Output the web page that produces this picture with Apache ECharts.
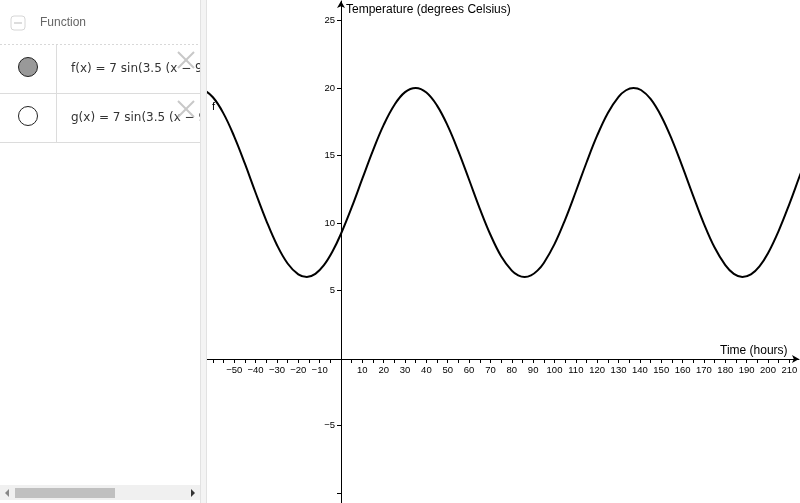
<!DOCTYPE html>
<html>
<head>
<meta charset="utf-8">
<script src="https://cdn.jsdelivr.net/npm/echarts@6/dist/echarts.min.js"></script>
<style>
html,body{margin:0;padding:0;background:#fff;}
#c{width:800px;height:503px;}
</style>
</head>
<body>
<div id="c"></div>
<script>
const timeHours = [-65,-60,-55,-50,-45,-40,-35,-30,-25,-20,-16,-12,-8,-4,0,5,10,15,20,25,30,35,40,45,50,55,60,65,70,75,80,83,86,89,92,95,100,105,110,115,120,125,130,133.5,137,140.5,145,150,155,160,165,170,175,180,184,188,192,196,200,205,210,215,220];
const temperature = [19.93,19.31,18.10,16.40,14.39,12.24,10.18,8.37,7.00,6.19,6.00,6.23,6.87,7.88,9.20,11.15,13.28,15.38,17.26,18.74,19.69,20.00,19.66,18.69,17.19,15.30,13.20,11.07,9.13,7.54,6.47,6.12,6.00,6.12,6.47,7.04,8.43,10.25,12.33,14.48,16.48,18.15,19.34,19.83,20.00,19.85,19.19,17.91,16.17,14.13,11.99,9.94,8.18,6.88,6.23,6.00,6.19,6.79,7.76,9.42,11.40,13.54,15.62];

const xTicks = [-60,-55,-50,-45,-40,-35,-30,-25,-20,-15,-10,-5,5,10,15,20,25,30,35,40,45,50,55,60,65,70,75,80,85,90,95,100,105,110,115,120,125,130,135,140,145,150,155,160,165,170,175,180,185,190,195,200,205,210];
const xTickLabels = [-50,-40,-30,-20,-10,10,20,30,40,50,60,70,80,90,100,110,120,130,140,150,160,170,180,190,200,210];
const yTicks = [-10,-5,5,10,15,20,25];
const yTickLabels = [-5,5,10,15,20,25];

const xAxisName = 'Time (hours)';
const yAxisName = 'Temperature (degrees Celsius)';
const functionRows = ['f(x) = 7 sin(3.5 (x − 9', 'g(x) = 7 sin(3.5 (x − 9'];

const seriesData = timeHours.map((t, i) => [t, temperature[i]]);
const minus = v => (v < 0 ? '\u2212' + Math.abs(v) : String(v));

const chart = echarts.init(document.getElementById('c'), null, {renderer: 'canvas'});
const font = '"Liberation Sans", Arial, sans-serif';

const panel = [
  {type: 'rect', shape: {x: 0, y: 0, width: 200, height: 503}, style: {fill: '#fff'}, z: 100},
  // header
  {type: 'rect', shape: {x: 11, y: 16, width: 14, height: 14, r: 3}, style: {fill: '#fff', stroke: '#d6d6d6', lineWidth: 1}, z: 101},
  {type: 'line', shape: {x1: 14, y1: 23, x2: 22, y2: 23}, style: {stroke: '#bbb', lineWidth: 1}, z: 101},
  {type: 'text', x: 40, y: 23, style: {text: 'Function', font: '12px ' + font, fill: '#666', verticalAlign: 'middle'}, z: 101},
  {type: 'line', shape: {x1: 0, y1: 44.5, x2: 200, y2: 44.5}, style: {stroke: '#d8d8d8', lineWidth: 1, lineDash: [2, 2]}, z: 101},
  {type: 'line', shape: {x1: 0, y1: 93.5, x2: 200, y2: 93.5}, style: {stroke: '#dcdcdc', lineWidth: 1}, z: 101},
  {type: 'line', shape: {x1: 0, y1: 142.5, x2: 200, y2: 142.5}, style: {stroke: '#dcdcdc', lineWidth: 1}, z: 101},
  {type: 'line', shape: {x1: 56.5, y1: 45, x2: 56.5, y2: 142}, style: {stroke: '#dcdcdc', lineWidth: 1}, z: 101},
  {type: 'circle', shape: {cx: 28, cy: 67, r: 9.5}, style: {fill: '#999', stroke: '#222', lineWidth: 1}, z: 101},
  {type: 'circle', shape: {cx: 28, cy: 116, r: 9.5}, style: {fill: '#fff', stroke: '#222', lineWidth: 1}, z: 101},
  {type: 'text', x: 71, y: 69, style: {text: functionRows[0], font: '12px "DejaVu Sans", sans-serif', fill: '#333', verticalAlign: 'middle'}, z: 101},
  {type: 'text', x: 71, y: 118, style: {text: functionRows[1], font: '12px "DejaVu Sans", sans-serif', fill: '#333', verticalAlign: 'middle'}, z: 101},
  // delete crosses
  {type: 'line', shape: {x1: 178, y1: 52, x2: 194, y2: 68}, style: {stroke: '#c8c8c8', lineWidth: 2}, z: 102},
  {type: 'line', shape: {x1: 194, y1: 52, x2: 178, y2: 68}, style: {stroke: '#c8c8c8', lineWidth: 2}, z: 102},
  {type: 'line', shape: {x1: 178, y1: 101, x2: 194, y2: 117}, style: {stroke: '#c8c8c8', lineWidth: 2}, z: 102},
  {type: 'line', shape: {x1: 194, y1: 101, x2: 178, y2: 117}, style: {stroke: '#c8c8c8', lineWidth: 2}, z: 102},
  // scrollbar
  {type: 'rect', shape: {x: 0, y: 485, width: 200, height: 15}, style: {fill: '#f0f0f0'}, z: 101},
  {type: 'rect', shape: {x: 15, y: 488, width: 100, height: 10}, style: {fill: '#c0c0c0'}, z: 102},
  {type: 'polygon', shape: {points: [[9, 489], [9, 497], [5, 493]]}, style: {fill: '#888'}, z: 102},
  {type: 'polygon', shape: {points: [[191, 489], [191, 497], [195, 493]]}, style: {fill: '#333'}, z: 102},
  // divider strip
  {type: 'rect', shape: {x: 200, y: 0, width: 7, height: 503}, style: {fill: '#f4f4f4'}, z: 103},
  {type: 'line', shape: {x1: 200.5, y1: 0, x2: 200.5, y2: 503}, style: {stroke: '#e2e2e2', lineWidth: 1}, z: 103},
  {type: 'line', shape: {x1: 206.5, y1: 0, x2: 206.5, y2: 503}, style: {stroke: '#e2e2e2', lineWidth: 1}, z: 103},
  // axis names and function label
  {type: 'text', x: 720, y: 351, style: {text: xAxisName, font: '12px ' + font, fill: '#000', verticalAlign: 'middle'}, z: 50},
  {type: 'text', x: 346, y: 10, style: {text: yAxisName, font: '12px ' + font, fill: '#000', verticalAlign: 'middle'}, z: 50},
  {type: 'text', x: 212, y: 107, style: {text: 'f', font: '11px ' + font, fill: '#000', verticalAlign: 'middle'}, z: 50}
];

chart.setOption({
  animation: false,
  backgroundColor: '#fff',
  grid: {left: 207, right: 1, top: 1, bottom: 0, containLabel: false, outerBoundsMode: 'none'},
  xAxis: {
    type: 'value', min: -62.76, max: 214.52, position: 'bottom', offset: -144,
    splitLine: {show: false},
    axisLine: {onZero: false, lineStyle: {color: '#000', width: 1}, symbol: ['none', 'arrow'], symbolSize: [6, 7]},
    axisTick: {show: true, length: 4, lineStyle: {color: '#000'}, customValues: xTicks},
    axisLabel: {customValues: xTickLabels, formatter: minus, color: '#000', fontSize: 9.5, fontFamily: font, margin: 6, hideOverlap: false}
  },
  yAxis: {
    type: 'value', min: -10.74, max: 26.44, position: 'left', offset: -134,
    splitLine: {show: false},
    axisLine: {onZero: false, lineStyle: {color: '#000', width: 1}, symbol: ['none', 'arrow'], symbolSize: [6, 7]},
    axisTick: {show: true, length: 4, lineStyle: {color: '#000'}, customValues: yTicks},
    axisLabel: {customValues: yTickLabels, formatter: minus, color: '#000', fontSize: 9.5, fontFamily: font, margin: 6, hideOverlap: false}
  },
  series: [{
    type: 'line', data: seriesData, smooth: 0.4, showSymbol: false,
    lineStyle: {color: '#000', width: 2}, clip: true
  }],
  graphic: panel
});
</script>
</body>
</html>
